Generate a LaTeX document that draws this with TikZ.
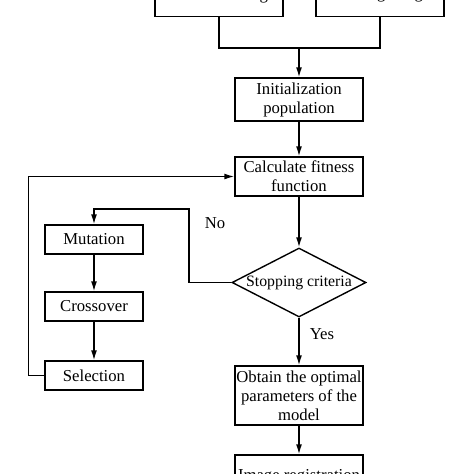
\documentclass[tikz,border=0pt]{standalone}
\usepackage{fontspec}
\setmainfont{Liberation Serif}
\usetikzlibrary{shapes.geometric,arrows.meta}

\begin{document}
\begin{tikzpicture}[x=1pt, y=-1pt,
            every node/.style = {draw, line width=1.4pt, inner sep=1pt, align=center,
                                 font=\fontsize{16.7}{19}\selectfont},
            box/.style = {rectangle, minimum width=128pt, minimum height=43pt},
            smallbox/.style = {rectangle, minimum width=98pt, minimum height=29pt},
            decision/.style = {diamond, aspect=1.94, inner sep=-2.5pt,
                               font=\fontsize{15.8}{19}\selectfont,
                               minimum width=134pt, minimum height=69pt},
            lbl/.style = {draw=none},
            arr/.style = {-{Latex[length=10pt, width=6pt]}},
            line/.style = {line width=1.4pt}]
            \clip (0,0) rectangle (474,474);
            % input images
            \node[box] (refimg) at (219,-5) {Reference image};
            \node[box] (floatimg) at (380,-5) {Floating image};
            \coordinate (join) at (299,48);
            % main column
            \node[box] (init) at (299,99.5) {Initialization\\population};
            \node[box, minimum height=39pt] (fitness) at (299,176.5) {Calculate fitness\\function};
            \node[decision] (stop) at (299,282.5) {Stopping criteria};
            \node[box, minimum height=59pt] (optimal) at (299,395.5) {Obtain the optimal\\parameters of the\\model};
            \node[box] (registration) at (299,476.5) {Image registration};
            % genetic operators
            \node[smallbox] (mutation) at (94,239.5) {Mutation};
            \node[smallbox] (crossover) at (94,306.5) {Crossover};
            \node[smallbox] (selection) at (94,375.5) {Selection};
            \coordinate (nobend) at (189,209);
            \node[lbl] (no) at (215,223) {No};
            \node[lbl] (yes) at (322,334) {Yes};
            % connectors
            \draw[line] (refimg.south) |- (join) -| (floatimg.south);
            \draw[line, arr] (join) -- (init.north);
            \draw[line, arr] (init) -- (fitness);
            \draw[line, arr] (fitness) -- (stop.north);
            \draw[line, arr] (stop.south) -- (optimal.north);
            \draw[line, arr] (optimal) -- (registration);
            \draw[line, arr] (stop.west) -| (nobend) -| (mutation.north);
            \draw[line, arr] (mutation) -- (crossover);
            \draw[line, arr] (crossover) -- (selection);
            \draw[line, arr] (selection.west) -- ++(-16,0) |- (fitness.west);
        \end{tikzpicture}
\end{document}
